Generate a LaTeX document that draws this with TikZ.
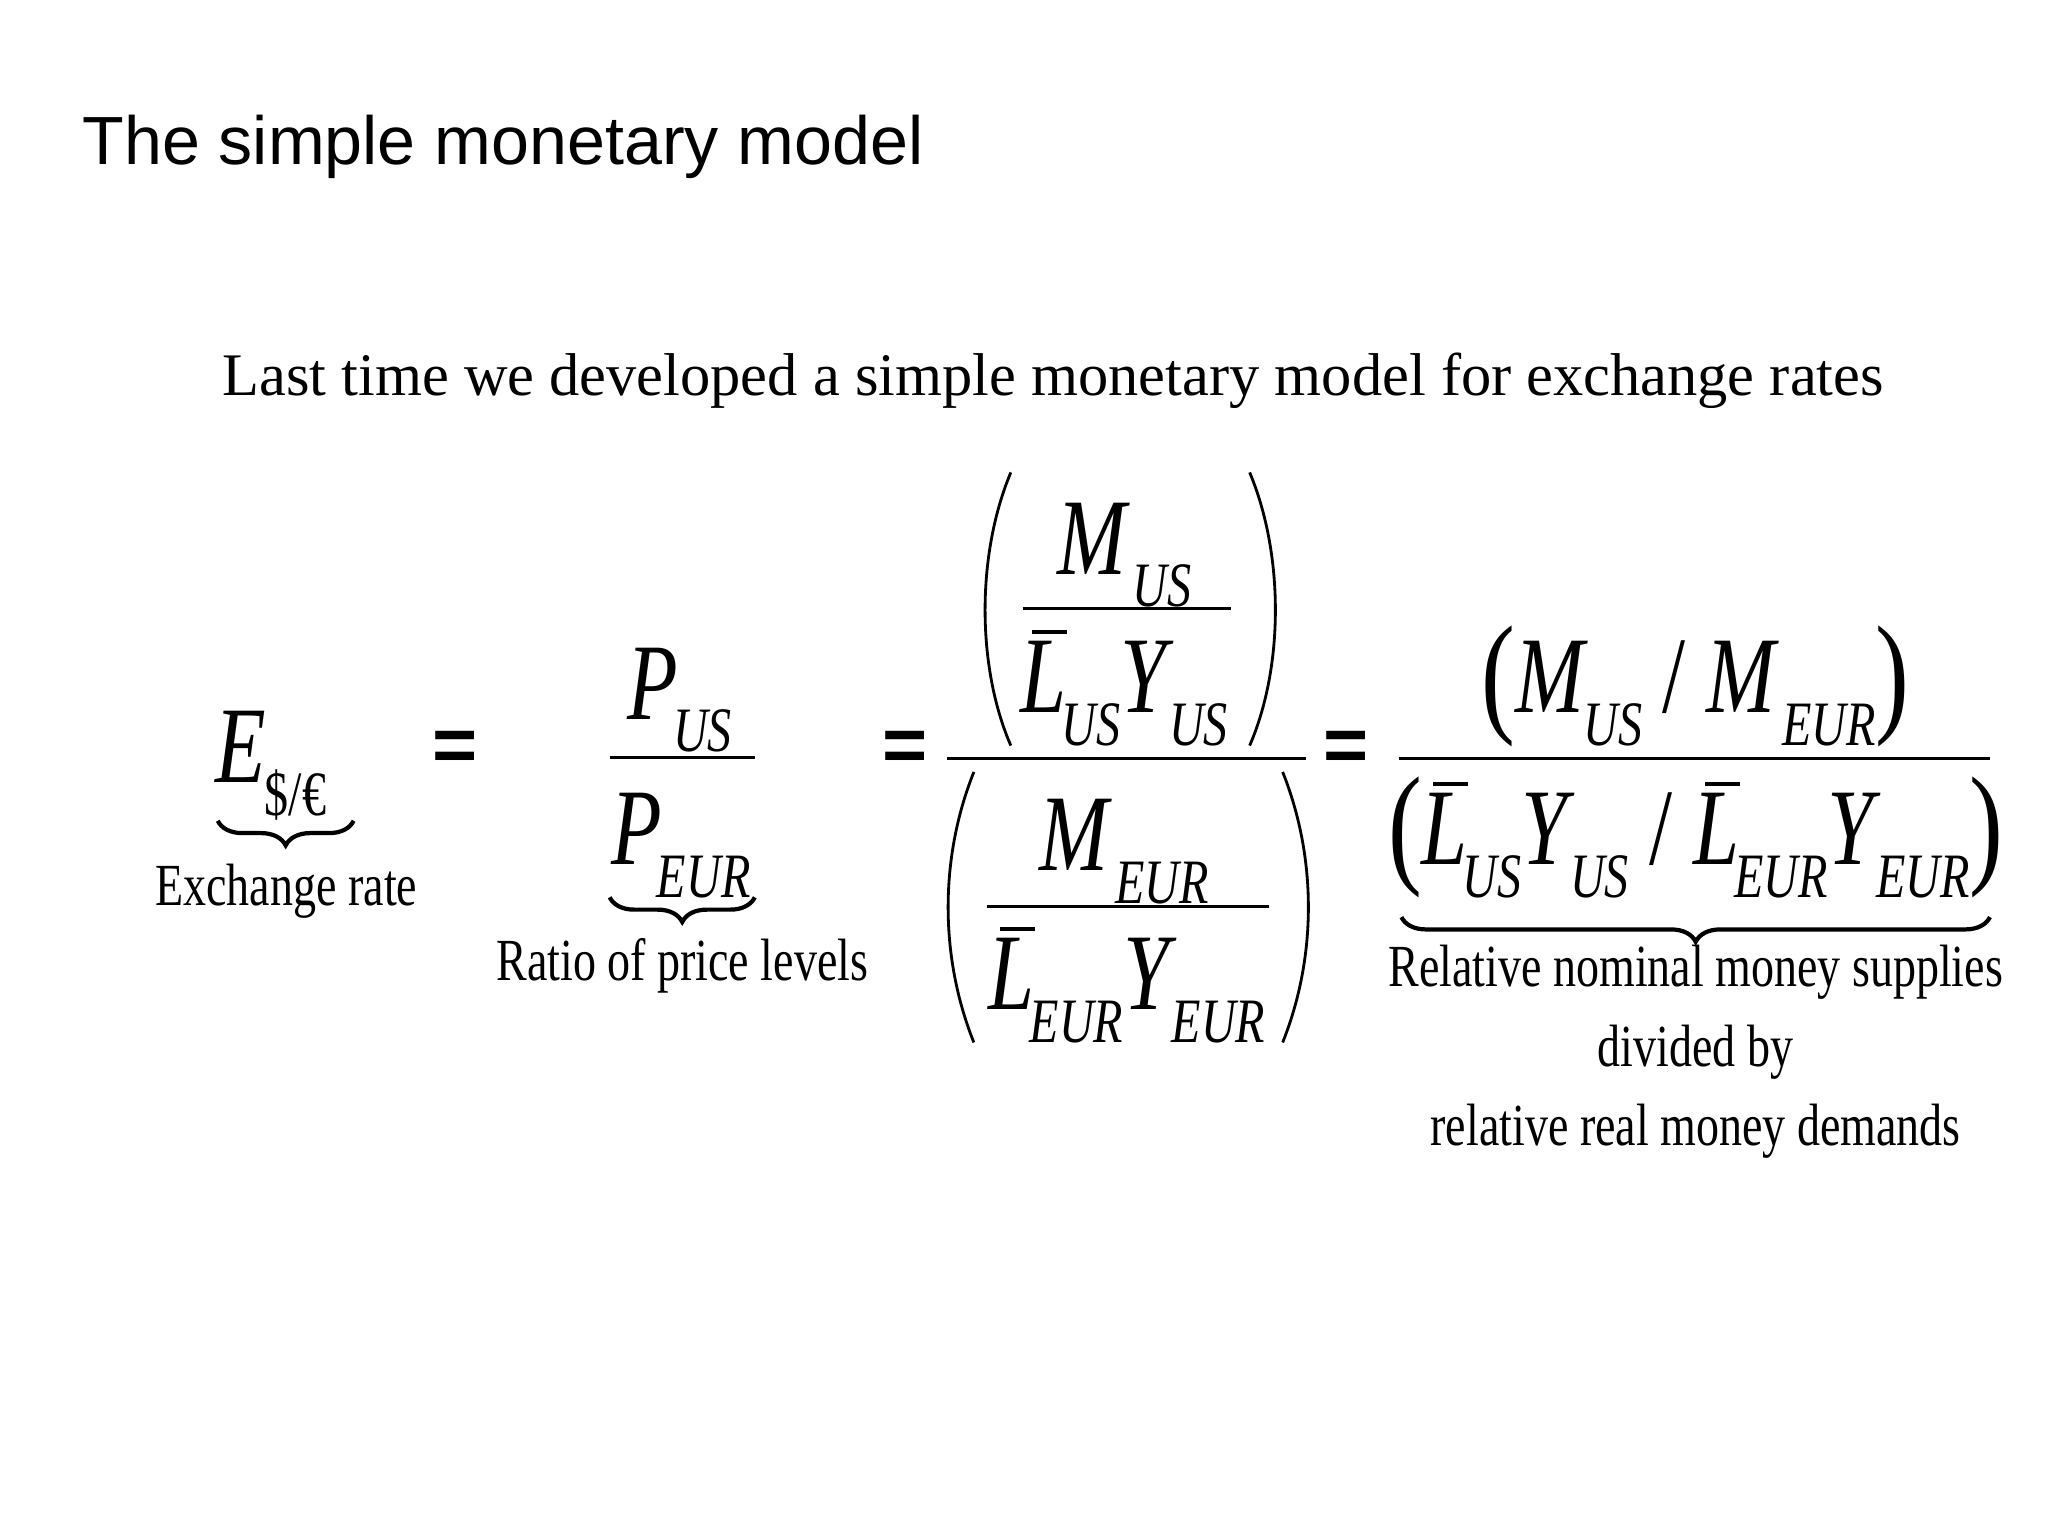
\documentclass[tikz,border=0pt]{standalone}
\usepackage{fontspec}
\setmainfont{Liberation Serif}
\newfontfamily\sansf{Liberation Sans}
\usetikzlibrary{decorations.pathreplacing}
\newcommand\bigf{\fontsize{31}{34}\selectfont}
\newcommand\subf{\fontsize{18}{20}\selectfont}
\newcommand\V[2]{\textit{#1}\kern-0.06em\raisebox{-0.3em}{\subf\textit{#2}}}
\newcommand\Vr[2]{\textit{#1}\kern-0.02em\raisebox{-0.3em}{\subf #2}}
\newcommand\Lb[1]{\rlap{\kern0.14em\rule[0.72em]{0.42em}{0.035em}}\textit{L}\kern-0.06em\raisebox{-0.3em}{\subf\textit{#1}}}
\newcommand\cz[1]{\scalebox{0.76}[1]{#1}}
\newcommand\cl[1]{\scalebox{0.77}[1]{#1}}
\begin{document}
\begin{tikzpicture}[x=0.0132cm,y=-0.0132cm,
  eq/.style={font=\bigf,inner sep=0pt,anchor=base},
  lab/.style={font=\fontsize{17}{19}\selectfont,inner sep=0pt,align=center},
  eqs/.style={inner sep=0pt,anchor=base,font=\sansf\bfseries\fontsize{22}{24}\selectfont},
  fl/.style={line width=0.8pt},
  par/.style={line width=0.8pt},
  br/.style={decorate,decoration={brace,mirror,amplitude=7pt},line width=1.2pt}]
\useasboundingbox (0,0) rectangle (1552,1164);
\node[anchor=base west,inner sep=0pt,font=\sansf\fontsize{19.4}{24}\selectfont] (title) at (62,125) {The simple monetary model};
\node[anchor=base,inner sep=0pt,font=\fontsize{17.2}{20}\selectfont] (sub) at (798,300) {Last time we developed a simple monetary model for exchange rates};
% E
\node[eq,anchor=base west] (E) at (163,593) {\cz{\Vr{E}{\$/€}}};
\draw[br] (165,622) -- (268,622);
\node[lab] (elab) at (217,675) {\cl{Exchange rate}};
\node[eqs] (eq1) at (345,585) {=};
% P ratio
\node[eq] (pus) at (515,545) {\cz{\V{P}{US}}};
\draw[fl] (462,574) -- (572,574);
\node[eq] (peur) at (516,655) {\cz{\V{P}{EUR}}};
\draw[br] (462,680) -- (572,680);
\node[lab] (plab) at (517,732) {\cl{Ratio of price levels}};
\node[eqs] (eq2) at (686,585) {=};
% big fraction
\draw[fl] (718,575) -- (990,575);
\draw[par] (766,358) .. controls (740,420) and (740,505) .. (766,565);
\draw[par] (947,358) .. controls (973,420) and (973,505) .. (947,565);
\node[eq] (mus) at (852,435) {\cz{\V{M}{\,US}}};
\draw[fl] (775,461) -- (933,461);
\node[eq] (lyus) at (852,540) {\cz{\Lb{US}\V{Y}{US}}};
\draw[par] (738,585) .. controls (712,650) and (712,725) .. (738,790);
\draw[par] (972,585) .. controls (998,650) and (998,725) .. (972,790);
\node[eq] (meur) at (852,660) {\cz{\V{M}{\,EUR}}};
\draw[fl] (748,687) -- (962,687);
\node[eq] (lyeur) at (854,765) {\cz{\Lb{EUR}\V{Y}{EUR}}};
\node[eqs] (eq3) at (1020,585) {=};
% right fraction
\draw[fl] (1060,575) -- (1508,575);
\node[eq] (rnum) at (1285,540) {\cz{\raisebox{-0.05em}{\fontsize{38}{40}\selectfont(}\V{M}{US} / \V{M}{\,EUR}\raisebox{-0.05em}{\fontsize{38}{40}\selectfont)}}};
\node[eq] (rden) at (1285,655) {\cz{\raisebox{-0.05em}{\fontsize{38}{40}\selectfont(}\Lb{US}\V{Y}{US} / \Lb{EUR}\V{Y}{EUR}\raisebox{-0.05em}{\fontsize{38}{40}\selectfont)}}};
\draw[br] (1062,695) -- (1508,695);
\node[lab,font=\fontsize{17}{22.5}\selectfont] (rlab) at (1285,797) {\cl{Relative nominal money supplies}\\\cl{divided by}\\\cl{relative real money demands}};
\end{tikzpicture}
\end{document}
